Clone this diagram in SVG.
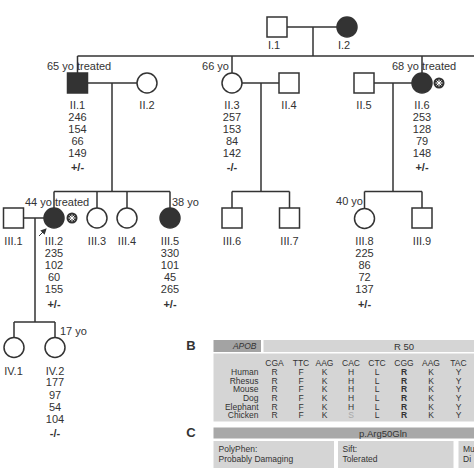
<svg xmlns="http://www.w3.org/2000/svg" width="474" height="474" viewBox="0 0 474 474">
<style>
.ln{stroke:#333;stroke-width:1.5;fill:none}
.o{stroke:#333;stroke-width:1.5;fill:#fff}
.f{stroke:#333;stroke-width:1.5;fill:#333}
text{font-family:"Liberation Sans",Arial,sans-serif;fill:#333}
.l{font-size:11px;text-anchor:middle}
.a{font-size:11px}
.b{font-weight:bold}
.t{font-size:8.5px;text-anchor:middle}
.s{font-size:8.5px;text-anchor:end}
.p{font-size:8.5px}
.ast{stroke:#fff;stroke-width:1}
</style>
<defs>
<g id="star">
<circle r="5.5" fill="#333"/>
<line class="ast" x1="-3.5" y1="0" x2="3.5" y2="0"/>
<line class="ast" x1="0" y1="-3.5" x2="0" y2="3.5"/>
<line class="ast" x1="-2.5" y1="-2.5" x2="2.5" y2="2.5"/>
<line class="ast" x1="-2.5" y1="2.5" x2="2.5" y2="-2.5"/>
</g>
<marker id="ah" markerWidth="6" markerHeight="6" refX="5" refY="3" orient="auto" markerUnits="userSpaceOnUse">
<path d="M0,0 L6,3 L0,6 Z" fill="#333"/>
</marker>
</defs>
<rect width="474" height="474" fill="#fff"/>
<g id="connectors">
<path class="ln" d="M287,27H337M313,27V56M77.5,56H474"/>
<path class="ln" d="M77.5,56V73M232,56V73M422,56V73"/>
<path class="ln" d="M87.5,83H137M112,83V191.5M242,83H279M261,83V191.5M374,83H412M393,83V191.5"/>
<path class="ln" d="M54,191.5H170M54,191.5V208M97,191.5V208M127,191.5V208M170,191.5V208"/>
<path class="ln" d="M232,191.5H289.5M232,191.5V208M289.5,191.5V208"/>
<path class="ln" d="M364.5,191.5H422M364.5,191.5V208.5M422,191.5V208"/>
<path class="ln" d="M23.5,218H44M35,218V322M14,322H55M14,322V337M55,322V337"/>
<line x1="39" y1="236" x2="46" y2="229" stroke="#333" stroke-width="1" marker-end="url(#ah)"/>
</g>
<g id="I1"><rect class="o" x="267" y="17" width="20" height="20"/><text class="l" x="274" y="49">I.1</text></g>
<g id="I2"><circle class="f" cx="347" cy="27" r="10"/><text class="l" x="344" y="49">I.2</text></g>
<g id="II1"><rect class="f" x="67.5" y="73" width="20" height="20"/>
<text class="a" x="47" y="70">65 yo treated</text>
<text class="l" x="77.5" y="109">II.1</text><text class="l" x="77.5" y="121">246</text><text class="l" x="77.5" y="133">154</text><text class="l" x="77.5" y="145">66</text><text class="l" x="77.5" y="157">149</text><text class="l b" x="77.5" y="171">+/-</text></g>
<g id="II2"><circle class="o" cx="147" cy="83" r="10"/><text class="l" x="147" y="109">II.2</text></g>
<g id="II3"><circle class="o" cx="232" cy="83" r="10"/>
<text class="a" x="229" y="70" text-anchor="end">66 yo</text>
<text class="l" x="232" y="109">II.3</text><text class="l" x="232" y="121">257</text><text class="l" x="232" y="133">153</text><text class="l" x="232" y="145">84</text><text class="l" x="232" y="157">142</text><text class="l b" x="232" y="171">-/-</text></g>
<g id="II4"><rect class="o" x="279" y="73" width="20" height="20"/><text class="l" x="289" y="109">II.4</text></g>
<g id="II5"><rect class="o" x="354" y="73" width="20" height="20"/><text class="l" x="364" y="109">II.5</text></g>
<g id="II6"><circle class="f" cx="422" cy="83" r="10"/><use href="#star" x="439" y="83"/>
<text class="a" x="392" y="70">68 yo treated</text>
<text class="l" x="422" y="109">II.6</text><text class="l" x="422" y="121">253</text><text class="l" x="422" y="133">128</text><text class="l" x="422" y="145">79</text><text class="l" x="422" y="157">148</text><text class="l b" x="422" y="171">+/-</text></g>
<g id="III1"><rect class="o" x="3.5" y="208" width="20" height="20"/><text class="l" x="13.5" y="245">III.1</text></g>
<g id="III2"><circle class="f" cx="54" cy="218" r="10"/><use href="#star" x="72" y="218"/>
<text class="a" x="25" y="205.5">44 yo treated</text>
<text class="l" x="54" y="245">III.2</text><text class="l" x="54" y="257">235</text><text class="l" x="54" y="269">102</text><text class="l" x="54" y="281">60</text><text class="l" x="54" y="293">155</text><text class="l b" x="54" y="308">+/-</text></g>
<g id="III3"><circle class="o" cx="97" cy="218" r="10"/><text class="l" x="97" y="245">III.3</text></g>
<g id="III4"><circle class="o" cx="127" cy="218" r="10"/><text class="l" x="127" y="245">III.4</text></g>
<g id="III5"><circle class="f" cx="170" cy="218" r="10"/>
<text class="a" x="172" y="205.5">38 yo</text>
<text class="l" x="170" y="245">III.5</text><text class="l" x="170" y="257">330</text><text class="l" x="170" y="269">101</text><text class="l" x="170" y="281">45</text><text class="l" x="170" y="293">265</text><text class="l b" x="170" y="308">+/-</text></g>
<g id="III6"><rect class="o" x="222" y="208" width="20" height="20"/><text class="l" x="232" y="245">III.6</text></g>
<g id="III7"><rect class="o" x="279.5" y="208" width="20" height="20"/><text class="l" x="289.5" y="245">III.7</text></g>
<g id="III8"><circle class="o" cx="364.5" cy="218.5" r="10"/>
<text class="a" x="363" y="205" text-anchor="end">40 yo</text>
<text class="l" x="364.5" y="245">III.8</text><text class="l" x="364.5" y="257">225</text><text class="l" x="364.5" y="269">86</text><text class="l" x="364.5" y="281">72</text><text class="l" x="364.5" y="293">137</text><text class="l b" x="364.5" y="308">+/-</text></g>
<g id="III9"><rect class="o" x="412" y="208" width="20" height="20"/><text class="l" x="422" y="245">III.9</text></g>
<g id="IV1"><circle class="o" cx="14" cy="347.5" r="10"/><text class="l" x="13.5" y="374.5">IV.1</text></g>
<g id="IV2"><circle class="o" cx="55" cy="347.5" r="10"/>
<text class="a" x="60" y="335">17 yo</text>
<text class="l" x="55" y="374.5">IV.2</text><text class="l" x="55" y="386">177</text><text class="l" x="55" y="398.5">97</text><text class="l" x="55" y="411">54</text><text class="l" x="55" y="423">104</text><text class="l b" x="55" y="437">-/-</text></g>
<g id="panelB">
<text x="191" y="350" font-size="13" font-weight="bold" text-anchor="middle" fill="#222">B</text>
<rect x="213.5" y="340" width="47.5" height="12" fill="#a3a3a3"/>
<text x="256.5" y="349.3" font-size="8.5" font-style="italic" text-anchor="end" fill="#444">APOB</text>
<rect x="263.5" y="340" width="210.5" height="12" fill="#d5d5d5"/>
<text x="404" y="349.5" font-size="9.5" text-anchor="middle">R 50</text>
<rect x="213.5" y="353.5" width="260.5" height="68" fill="#d5d5d5"/>
<g class="t">
<text class="t" x="274.5" y="366">CGA</text><text class="t" x="301" y="366">TTC</text><text class="t" x="324.5" y="366">AAG</text><text class="t" x="351" y="366">CAC</text><text class="t" x="377" y="366">CTC</text><text class="t" x="404" y="366">CGG</text><text class="t" x="431" y="366">AAG</text><text class="t" x="458.5" y="366">TAC</text>
</g>
<text class="s" x="258.5" y="374.7">Human</text>
<text class="s" x="258.5" y="383.5">Rhesus</text>
<text class="s" x="258.5" y="392.3">Mouse</text>
<text class="s" x="258.5" y="401">Dog</text>
<text class="s" x="258.5" y="409.7">Elephant</text>
<text class="s" x="258.5" y="418.4">Chicken</text>
<g id="rows">
<text class="t" x="274.5" y="374.7">R</text><text class="t" x="301" y="374.7">F</text><text class="t" x="324.5" y="374.7">K</text><text class="t" x="351" y="374.7">H</text><text class="t" x="377" y="374.7">L</text><text class="t b" x="404" y="374.7" fill="#111">R</text><text class="t" x="431" y="374.7">K</text><text class="t" x="458.5" y="374.7">Y</text>
<text class="t" x="274.5" y="383.5">R</text><text class="t" x="301" y="383.5">F</text><text class="t" x="324.5" y="383.5">K</text><text class="t" x="351" y="383.5">H</text><text class="t" x="377" y="383.5">L</text><text class="t b" x="404" y="383.5" fill="#111">R</text><text class="t" x="431" y="383.5">K</text><text class="t" x="458.5" y="383.5">Y</text>
<text class="t" x="274.5" y="392.3">R</text><text class="t" x="301" y="392.3">F</text><text class="t" x="324.5" y="392.3">K</text><text class="t" x="351" y="392.3">H</text><text class="t" x="377" y="392.3">L</text><text class="t b" x="404" y="392.3" fill="#111">R</text><text class="t" x="431" y="392.3">K</text><text class="t" x="458.5" y="392.3">Y</text>
<text class="t" x="274.5" y="401">R</text><text class="t" x="301" y="401">F</text><text class="t" x="324.5" y="401">K</text><text class="t" x="351" y="401">H</text><text class="t" x="377" y="401">L</text><text class="t b" x="404" y="401" fill="#111">R</text><text class="t" x="431" y="401">K</text><text class="t" x="458.5" y="401">Y</text>
<text class="t" x="274.5" y="409.7">R</text><text class="t" x="301" y="409.7">F</text><text class="t" x="324.5" y="409.7">K</text><text class="t" x="351" y="409.7">H</text><text class="t" x="377" y="409.7">L</text><text class="t b" x="404" y="409.7" fill="#111">R</text><text class="t" x="431" y="409.7">K</text><text class="t" x="458.5" y="409.7">Y</text>
<text class="t" x="274.5" y="418.4">R</text><text class="t" x="301" y="418.4">F</text><text class="t" x="324.5" y="418.4">K</text><text class="t" x="351" y="418.4" style="fill:#a8a8a8">S</text><text class="t" x="377" y="418.4">L</text><text class="t b" x="404" y="418.4" fill="#111">R</text><text class="t" x="431" y="418.4">K</text><text class="t" x="458.5" y="418.4">Y</text>
</g>
</g>
<g id="panelC">
<text x="191" y="437" font-size="13" font-weight="bold" text-anchor="middle" fill="#222">C</text>
<rect x="213.5" y="427.5" width="260.5" height="11" fill="#a8a8a8"/>
<text x="383" y="436.5" font-size="9.5" text-anchor="middle">p.Arg50Gln</text>
<rect x="213.5" y="441" width="120.5" height="27" fill="#d5d5d5"/>
<rect x="338" y="441" width="115.5" height="27" fill="#d5d5d5"/>
<rect x="458.5" y="441" width="15.5" height="27" fill="#d5d5d5"/>
<text class="p" x="218.5" y="451.5">PolyPhen:</text>
<text class="p" x="218.5" y="461.5">Probably Damaging</text>
<text class="p" x="342.5" y="451.5">Sift:</text>
<text class="p" x="342.5" y="461.5">Tolerated</text>
<text class="p" x="463" y="451.5">Mu</text>
<text class="p" x="463" y="461.5">Di</text>
</g>
</svg>
